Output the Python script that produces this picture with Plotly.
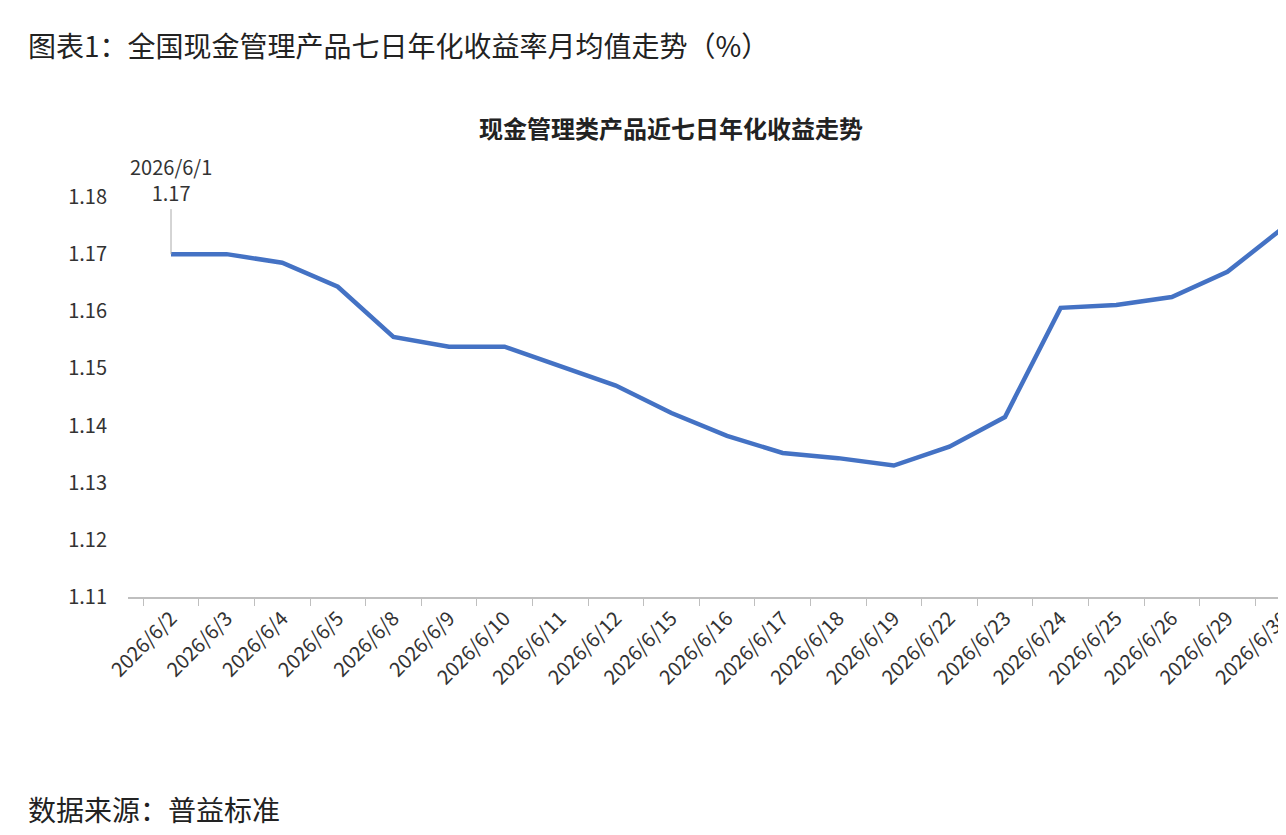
import plotly.graph_objects as go

dates = ["2026/6/2", "2026/6/3", "2026/6/4", "2026/6/5", "2026/6/8", "2026/6/9",
         "2026/6/10", "2026/6/11", "2026/6/12", "2026/6/15", "2026/6/16", "2026/6/17",
         "2026/6/18", "2026/6/19", "2026/6/22", "2026/6/23", "2026/6/24", "2026/6/25",
         "2026/6/26", "2026/6/29", "2026/6/30"]
yields = [1.170, 1.170, 1.1685, 1.1643, 1.1555, 1.1538, 1.1538, 1.1503, 1.147, 1.1422,
          1.1382, 1.1352, 1.1343, 1.133, 1.1363, 1.1415, 1.1606, 1.1611, 1.1625,
          1.1669, 1.1746]
y_ticks = [1.11, 1.12, 1.13, 1.14, 1.15, 1.16, 1.17, 1.18]

font = "Noto Sans CJK SC"

fig = go.Figure(go.Scatter(x=dates, y=yields, mode="lines",
                           line=dict(color="#4472C4", width=4.5)))

fig.add_annotation(x=dates[0], y=yields[0], text="2026/6/1<br>1.17",
                   showarrow=True, arrowhead=0, arrowcolor="#aaaaaa", arrowwidth=1,
                   ax=0, ay=-45, yanchor="bottom", align="center",
                   font=dict(family=font, size=20, color="#333333"))

fig.update_layout(
    width=1286, height=835,
    paper_bgcolor="white", plot_bgcolor="white",
    margin=dict(l=120, r=11, t=189, b=246),
    showlegend=False,
    font=dict(family=font, color="#333333"),
    xaxis=dict(type="category", showline=True, linecolor="#bfbfbf", linewidth=1.5,
               ticks="outside", tickson="boundaries", tickcolor="#bfbfbf", ticklen=7,
               tickangle=-45, tickfont=dict(size=20, color="#333333"), showgrid=False,
               automargin=False),
    yaxis=dict(range=[1.11, 1.18], tickvals=y_ticks,
               ticktext=[f"{v:.2f}" for v in y_ticks], showgrid=False, zeroline=False,
               tickfont=dict(size=20, color="#333333"), ticks="", ticklabelstandoff=20,
               automargin=False),
)

fig.add_annotation(xref="paper", yref="paper", x=-0.088, y=1.0, xanchor="left",
                   yanchor="bottom", yshift=130, showarrow=False,
                   text="图表1：全国现金管理产品七日年化收益率月均值走势（%）",
                   font=dict(family=font, size=28, color="#222222"))
fig.add_annotation(xref="paper", yref="paper", x=0.47, y=1.0, yanchor="bottom",
                   yshift=50, showarrow=False,
                   text="<b>现金管理类产品近七日年化收益走势</b>",
                   font=dict(family=font, size=24, color="#222222"))
fig.add_annotation(xref="paper", yref="paper", x=-0.088, y=0, xanchor="left",
                   yanchor="top", yshift=-190, showarrow=False,
                   text="数据来源：普益标准",
                   font=dict(family=font, size=28, color="#222222"))

fig.write_html("out.html")
